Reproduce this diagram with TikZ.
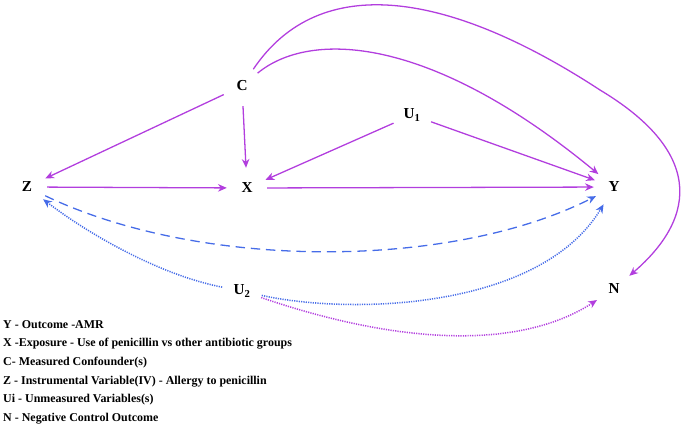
\documentclass[tikz,border=0pt]{standalone}
\usepackage{amsmath,amssymb}
\usepackage{fontspec}
\setmainfont{Liberation Serif}
\usepackage{tikz}
\usetikzlibrary{arrows.meta, positioning}
\definecolor{dagpurple}{RGB}{178,62,222}
\definecolor{dagblue}{RGB}{70,108,232}

\begin{document}
\begin{tikzpicture}[
    x=0.03cm, y=-0.03cm,
    var/.style={circle, minimum size=1.2cm, inner sep=0pt, font=\fontsize{13}{15}\selectfont\bfseries},
    arrow/.style={line width=1.1pt, draw=dagpurple, -{Stealth[length=7.5pt,width=6.5pt]}},
    dasharrow/.style={arrow, draw=dagblue, dash pattern=on 8pt off 5pt},
    dotarrow/.style={arrow, line width=1.3pt, dash pattern=on 1pt off 1pt},
    legend/.style={anchor=north west, align=left, inner sep=0pt, font=\fontsize{10.2}{15.9}\selectfont\bfseries}
]
\useasboundingbox (0,0) rectangle (685,444);

\node (c) [var] at (242,86) {C};
\node (u1) [var] at (412,115) {U\textsubscript{1}};
\node (z) [var] at (27,187) {Z};
\node (x) [var] at (247,188) {X};
\node (y) [var] at (614,187) {Y};
\node (u2) [var] at (242,291) {U\textsubscript{2}};
\node (n) [var] at (614,289) {N};

% measured paths
\draw [arrow] (c) -- (z);
\draw [arrow] (c) -- (x);
\draw [arrow] (u1) -- (x);
\draw [arrow] (u1) -- (y);
\draw [arrow] (z) -- (x);
\draw [arrow] (x) -- (y);
\draw [arrow] (c) .. controls (310,30) and (430,35) .. (y);
\draw [arrow] (c) .. controls (320,-30) and (450,-8) .. (600,90) .. controls (700,150) and (700,215) .. (n);

% instrument and unmeasured
\draw [dasharrow] (z) .. controls (200,270) and (450,270) .. (y);
\draw [dotarrow, draw=dagblue] (u2) .. controls (160,275) and (90,235) .. (z);
\draw [dotarrow, draw=dagblue] (u2) .. controls (350,315) and (540,310) .. (y);
\draw [dotarrow] (u2) .. controls (400,345) and (520,350) .. (n);

\node (key) [legend] at (3,320) {Y - Outcome -AMR\\
X -Exposure - Use of penicillin vs other antibiotic groups\\
C- Measured Confounder(s)\\
Z - Instrumental Variable(IV) - Allergy to penicillin\\
Ui - Unmeasured Variables(s)\\
N - Negative Control Outcome};

\end{tikzpicture}
\end{document}
